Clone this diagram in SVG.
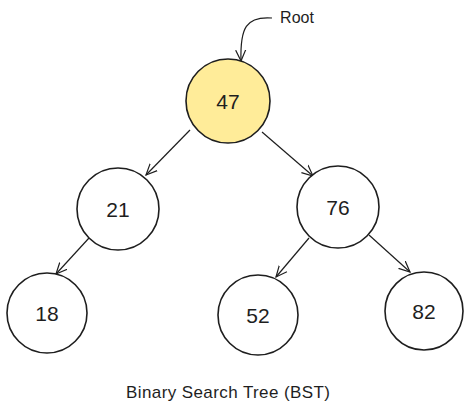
<svg xmlns="http://www.w3.org/2000/svg" width="474" height="412" viewBox="0 0 474 412">
<style>
.node{fill:#ffffff;stroke:#1e1e1e;stroke-width:1.6}
.root{fill:#ffec99}
.lbl{font-family:"Liberation Sans",Arial,sans-serif;font-size:21px;fill:#1e1e1e;text-anchor:middle;dominant-baseline:central}
.edge{fill:none;stroke:#1e1e1e;stroke-width:1.2}
.cap{font-family:"Liberation Sans",Arial,sans-serif;font-size:17px;fill:#1e1e1e;text-anchor:middle}
</style>
<defs>
<marker id="ah" viewBox="0 0 12 12" refX="11" refY="6" markerWidth="12" markerHeight="12" markerUnits="userSpaceOnUse" orient="auto">
<path d="M0,1 L11,6 L0,11" fill="none" stroke="#1e1e1e" stroke-width="1.2"/>
</marker>
</defs>
<rect width="474" height="412" fill="#ffffff"/>
<g id="connectors">
<path class="edge" d="M272,18 C246,16 240,28 241,61" marker-end="url(#ah)"/>
<path class="edge" d="M190,130 L146,175" marker-end="url(#ah)"/>
<path class="edge" d="M262,132 L313,176" marker-end="url(#ah)"/>
<path class="edge" d="M89,238 L56,274" marker-end="url(#ah)"/>
<path class="edge" d="M309,238 L276,277" marker-end="url(#ah)"/>
<path class="edge" d="M369,235 L410,272" marker-end="url(#ah)"/>
</g>
<g id="root-label"><text x="297" y="23" class="cap" style="font-size:16px">Root</text></g>
<g id="n47"><circle class="node root" cx="228" cy="101" r="42"/><text class="lbl" x="228" y="101">47</text></g>
<g id="n21"><circle class="node" cx="118" cy="209" r="41"/><text class="lbl" x="118" y="209">21</text></g>
<g id="n76"><circle class="node" cx="338" cy="207" r="41"/><text class="lbl" x="338" y="207">76</text></g>
<g id="n18"><circle class="node" cx="47" cy="313" r="40"/><text class="lbl" x="47" y="313">18</text></g>
<g id="n52"><circle class="node" cx="258" cy="315" r="40"/><text class="lbl" x="258" y="315">52</text></g>
<g id="n82"><circle class="node" cx="424" cy="311" r="39"/><text class="lbl" x="424" y="311">82</text></g>
<g id="caption"><text class="cap" x="228" y="398" textLength="204" lengthAdjust="spacing">Binary Search Tree (BST)</text></g>
</svg>
